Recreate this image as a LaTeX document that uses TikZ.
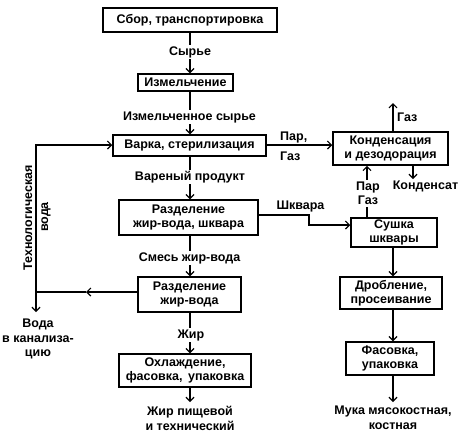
\documentclass[tikz,border=0pt]{standalone}
\usepackage{fontspec}
\setmainfont{Liberation Sans}
\usetikzlibrary{arrows.meta}
\begin{document}
\begin{tikzpicture}[x=1pt,y=-1pt,
  every node/.style={font=\fontsize{12.5}{14.5}\selectfont\bfseries, align=center, inner sep=1pt},
  box/.style={draw, line width=1.5pt, inner sep=0pt},
  lbl/.style={fill=white, inner sep=1.5pt},
  flow/.style={line width=1.2pt, -{Straight Barb[length=4pt,width=8pt,line width=1.2pt]}},
  plain/.style={line width=1.2pt}]
\useasboundingbox (0,0) rectangle (474,440);
% left column
\node[box, minimum width=174pt, minimum height=24pt] (b1) at (190,20) {Сбор, транспортировка};
\node[box, minimum width=95pt, minimum height=17pt] (b2) at (185.5,82.5) {Измельчение};
\node[box, minimum width=153pt, minimum height=21pt] (b3) at (189.5,145.5) {Варка, стерилизация};
\node[box, minimum width=139pt, minimum height=35pt] (b4) at (188.5,217.5) {Разделение\\жир-вода, шквара};
\node[box, minimum width=103pt, minimum height=35pt] (b5) at (189.5,294.5) {Разделение\\жир-вода};
\node[box, minimum width=132pt, minimum height=33pt] (b6) at (185,370.5) {Охлаждение,\\фасовка,\, упаковка};
\coordinate (sp) at (190,0);
% right column
\node[box, minimum width=115pt, minimum height=33pt] (k) at (390.5,148.5) {Конденсация\\и дезодорация};
\node[box, minimum width=86pt, minimum height=29pt] (s) at (394,232.5) {Сушка\\шквары};
\node[box, minimum width=102pt, minimum height=32pt] (d) at (391,293) {Дробление,\\просеивание};
\node[box, minimum width=88pt, minimum height=33pt] (f) at (390,358.5) {Фасовка,\\упаковка};
\coordinate (rs) at (393,0);
% main spine arrows
\draw[flow] (b1.south -| sp) -- (b2.north -| sp);
\node[lbl] (l1) at (190,52) {Сырье};
\draw[flow] (b2.south -| sp) -- (b3.north -| sp);
\node[lbl] (l2) at (189.5,117) {Измельченное сырье};
\draw[flow] (b3.south -| sp) -- (b4.north -| sp);
\node[lbl] (l3) at (190,177) {Вареный продукт};
\draw[flow] (b4.south -| sp) -- (b5.north -| sp);
\node[lbl] (l4) at (189.5,258) {Смесь жир-вода};
\draw[flow] (b5.south -| sp) -- (b6.north -| sp);
\node[lbl] (l5) at (191,335) {Жир};
\coordinate (e6) at (190,402);
\draw[flow] (b6.south -| sp) -- (e6);
\node[anchor=north] (o6) at (190,405) {Жир пищевой\\и технический};
% water loop
\coordinate (wj) at (36,292);
\coordinate (wm) at (86,292);
\coordinate (wt) at (36,145);
\coordinate (wd) at (36,312);
\draw[flow] (b5.west |- wj) -- (wm);
\draw[plain] (wm) -- (wj);
\draw[flow] (wj) -- (wt) -- (b3.west |- wt);
\draw[flow] (wj) -- (wd);
\node[rotate=90] (tv1) at (28,218) {Технологическая};
\node[rotate=90] (tv2) at (46,217) {вода};
\node[anchor=north] (vk) at (38,318) {Вода\\в канализа-\\цию};
% steam/gas to condenser
\coordinate (pg) at (0,145);
\draw[flow] (b3.east |- pg) -- (k.west |- pg);
\node[anchor=west] (lp1) at (279,137) {Пар,};
\node[anchor=west] (lp2) at (279,156) {Газ};
\coordinate (gt) at (393,103);
\draw[flow] (k.north -| rs) -- (gt);
\node[anchor=west] (lg) at (396,117) {Газ};
\coordinate (kx) at (413,0);
\coordinate (kc) at (413,179);
\draw[flow] (k.south -| kx) -- (kc);
\node (lk) at (425.5,186) {Конденсат};
% dryer to condenser
\coordinate (px) at (367,0);
\draw[flow] (s.north -| px) -- (k.south -| px);
\node[lbl, fill=white] (lpg) at (368,193.5) {Пар\\Газ};
% cracklings
\coordinate (q1) at (309,215);
\coordinate (q2) at (309,225);
\draw[flow] (b4.east |- q1) -- (q1) -- (q2) -- (s.west |- q2);
\node[anchor=south] (lq) at (300.5,213) {Шквара};
% right spine
\draw[flow] (s.south -| rs) -- (d.north -| rs);
\draw[flow] (d.south -| rs) -- (f.north -| rs);
\coordinate (ef) at (393,402);
\draw[flow] (f.south -| rs) -- (ef);
\node[anchor=north] (om) at (393,405) {Мука мясокостная,\\костная};
\end{tikzpicture}
\end{document}
